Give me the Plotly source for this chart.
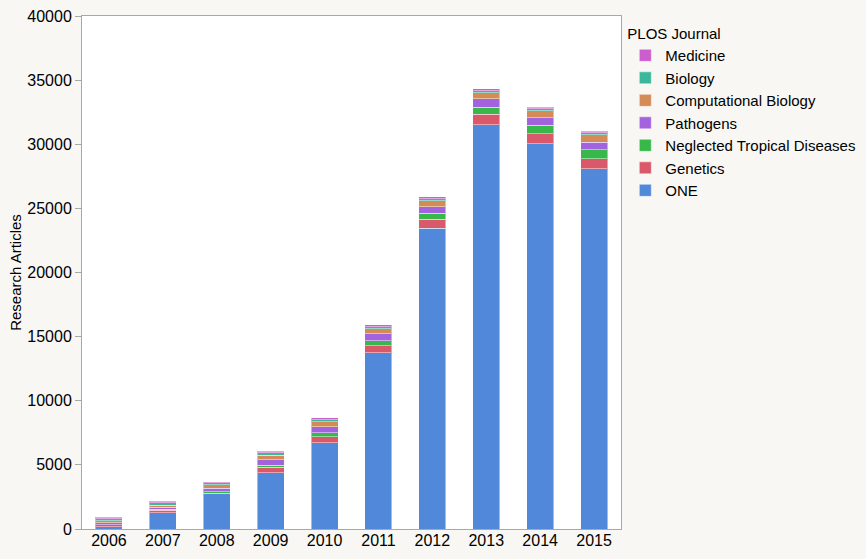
import plotly.graph_objects as go

# --- Daten ---
years = ["2006", "2007", "2008", "2009", "2010", "2011", "2012", "2013", "2014", "2015"]

one = [180, 1270, 2730, 4390, 6730, 13760, 23450, 31510, 30050, 28100]
genetics = [170, 180, 60, 420, 450, 540, 700, 840, 780, 760]
ntd = [0, 80, 130, 180, 310, 390, 470, 550, 660, 730]
pathogens = [130, 160, 260, 420, 470, 550, 520, 640, 590, 570]
comp_bio = [150, 160, 280, 360, 410, 360, 470, 490, 550, 600]
biology = [170, 180, 140, 180, 160, 180, 130, 160, 130, 130]
medicine = [110, 150, 100, 130, 130, 130, 160, 150, 130, 130]

series = [
    ("ONE", one, "#5288d9"),
    ("Genetics", genetics, "#d9586a"),
    ("Neglected Tropical Diseases", ntd, "#38b84a"),
    ("Pathogens", pathogens, "#a463de"),
    ("Computational Biology", comp_bio, "#d48b56"),
    ("Biology", biology, "#3bb89b"),
    ("Medicine", medicine, "#cc5dcc"),
]

fig = go.Figure()
for name, vals, col in series:
    fig.add_trace(go.Bar(
        x=years, y=vals, name=name,
        marker=dict(color=col, line=dict(color="rgba(255,255,255,0.45)", width=1)),
    ))

fig.update_layout(
    barmode="stack",
    bargap=0.5,
    width=866, height=559,
    margin=dict(l=82, r=245, t=16, b=30, autoexpand=False),
    paper_bgcolor="#f8f7f4",
    plot_bgcolor="white",
    font=dict(family="Liberation Sans, Arial, sans-serif", size=16, color="black"),
    legend=dict(
        title=dict(text="PLOS Journal", font=dict(size=15)),
        traceorder="reversed",
        x=1.008, xanchor="left", y=0.993, yanchor="top",
        font=dict(size=15),
        bgcolor="rgba(0,0,0,0)",
        itemwidth=30,
        tracegroupgap=0,
    ),
    xaxis=dict(
        showline=True, linecolor="#a8a8a8", linewidth=1, mirror=True,
        ticks="", showgrid=False, range=[-0.5, 9.5],
        automargin=False, ticklabelstandoff=-3,
    ),
    yaxis=dict(
        title=dict(text="Research Articles", font=dict(size=15), standoff=2),
        range=[0, 40000], dtick=5000, tickformat="d",
        showline=True, linecolor="#a8a8a8", linewidth=1, mirror=True,
        ticks="outside", ticklen=6, tickcolor="#a8a8a8",
        showgrid=False, zeroline=False, automargin=False,
    ),
)

# Body-Rand entfernen, damit die Grafik genau ins Fenster passt
fig.write_html(
    "out.html",
    config={"displayModeBar": False},
    post_script="document.body.style.margin='0';",
)
